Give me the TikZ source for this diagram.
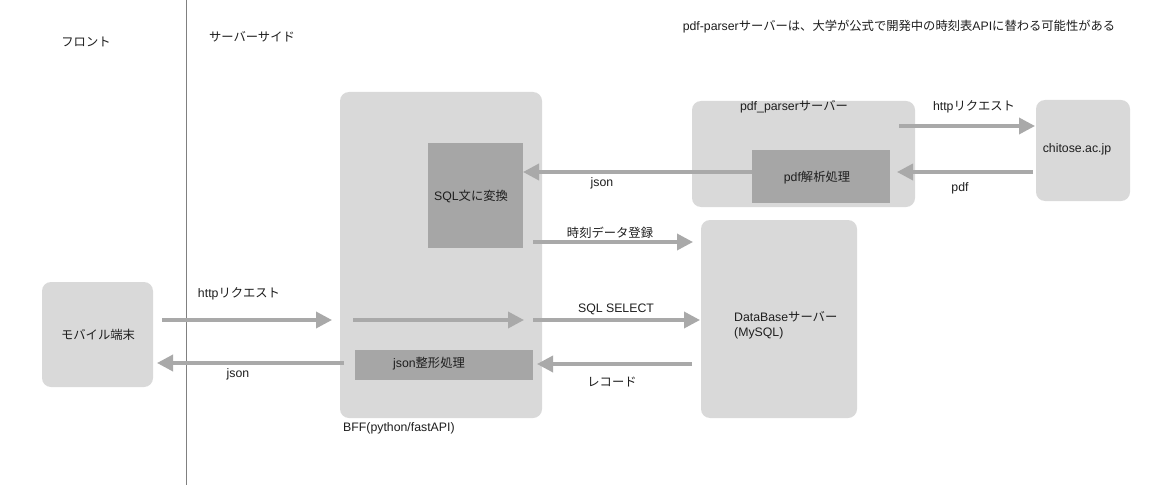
\documentclass[tikz,border=0pt]{standalone}
\usepackage{fontspec}
\setmainfont{Noto Sans CJK JP}
\newfontfamily\lat{Liberation Sans}
\usetikzlibrary{arrows.meta}
\definecolor{boxlight}{HTML}{D9D9D9}
\definecolor{boxdark}{HTML}{A6A6A6}
\definecolor{arr}{HTML}{A9A9A9}
\definecolor{txt}{HTML}{1E1E1E}
\definecolor{divider}{HTML}{808080}
\tikzset{
  lightbox/.style={fill=boxlight, rounded corners=9pt, draw=none, inner sep=0pt},
  darkbox/.style={fill=boxdark, draw=none, inner sep=0pt},
  lbl/.style={text=txt, font=\fontsize{12.3}{14.5}\selectfont, inner sep=0pt},
  flow/.style={draw=arr, line width=3.5pt, -{Triangle[length=16pt,width=16pt]}},
}
\begin{document}
\begin{tikzpicture}[x=1pt,y=-1pt]
\useasboundingbox (0,0) rectangle (1172,500);
\fill[white] (0,0) rectangle (1172,500);

% divider
\coordinate (divtop) at (186,0);
\coordinate (divbot) at (186,485);
\draw[divider, line width=1pt] (divtop) -- (divbot);

% boxes
\node[lightbox, minimum width=202pt, minimum height=326pt] (bff) at (441,255) {};
\node[darkbox, minimum width=95pt, minimum height=105pt] (sql) at (475.5,195.5) {};
\node[darkbox, minimum width=178pt, minimum height=30pt] (jsonfmt) at (444,365) {};
\node[lightbox, minimum width=223pt, minimum height=106pt] (pdfsrv) at (803.5,154) {};
\node[darkbox, minimum width=138pt, minimum height=53pt] (pdfproc) at (821,176.5) {};
\node[lightbox, minimum width=94pt, minimum height=101pt] (chitose) at (1083,150.5) {};
\node[lightbox, minimum width=156pt, minimum height=198pt] (db) at (779,319) {};
\node[lightbox, minimum width=111pt, minimum height=105pt] (mobile) at (97.5,334.5) {};

% box texts
\node[lbl] (sqltxt) at (471,196) {{\lat SQL}文に変換};
\node[lbl] (jsonfmttxt) at (429,364) {{\lat json}整形処理};
\node[lbl] (pdfsrvtxt) at (794,107) {{\lat pdf\_parser}サーバー};
\node[lbl] (pdfproctxt) at (817,178) {{\lat pdf}解析処理};
\node[lbl] (chitosetxt) at (1077,149) {{\lat chitose.ac.jp}};
\node[lbl, anchor=west, align=left] (dbtxt) at (734,325) {{\lat DataBase}サーバー\\{\lat (MySQL)}};
\node[lbl] (mobiletxt) at (98,335) {モバイル端末};
\node[lbl, anchor=west] (bfftxt) at (343,428) {{\lat BFF(python/fastAPI)}};

% headings
\node[lbl] (front) at (86,42) {フロント};
\node[lbl] (server) at (252,37) {サーバーサイド};
\node[lbl] (note) at (899,27) {{\lat pdf-parser}サーバーは、大学が公式で開発中の時刻表{\lat API}に替わる可能性がある};

% arrow end points
\coordinate (a1s) at (162,320);  \coordinate (a1e) at (332,320);
\coordinate (a2s) at (353,320);  \coordinate (a2e) at (524,320);
\coordinate (a3s) at (533,320);  \coordinate (a3e) at (700,320);
\coordinate (a4s) at (533,242);  \coordinate (a4e) at (693,242);
\coordinate (a5s) at (752,172);  \coordinate (a5e) at (523,172);
\coordinate (a6s) at (899,126);  \coordinate (a6e) at (1035,126);
\coordinate (a7s) at (1033,172); \coordinate (a7e) at (897,172);
\coordinate (a8s) at (692,364);  \coordinate (a8e) at (537,364);
\coordinate (a9s) at (344,363);  \coordinate (a9e) at (157,363);

\draw[flow] (a1s) -- (a1e);
\draw[flow] (a2s) -- (a2e);
\draw[flow] (a3s) -- (a3e);
\draw[flow] (a4s) -- (a4e);
\draw[flow] (a5s) -- (a5e);
\draw[flow] (a6s) -- (a6e);
\draw[flow] (a7s) -- (a7e);
\draw[flow] (a8s) -- (a8e);
\draw[flow] (a9s) -- (a9e);

% arrow labels
\node[lbl] (l1) at (239,294) {{\lat http}リクエスト};
\node[lbl] (l9) at (238,374) {{\lat json}};
\node[lbl] (l3) at (616,309) {{\lat SQL SELECT}};
\node[lbl] (l4) at (610,233) {時刻データ登録};
\node[lbl] (l5) at (602,183) {{\lat json}};
\node[lbl] (l8) at (612,382) {レコード};
\node[lbl] (l6) at (974,107) {{\lat http}リクエスト};
\node[lbl] (l7) at (960,188) {{\lat pdf}};
\end{tikzpicture}
\end{document}
